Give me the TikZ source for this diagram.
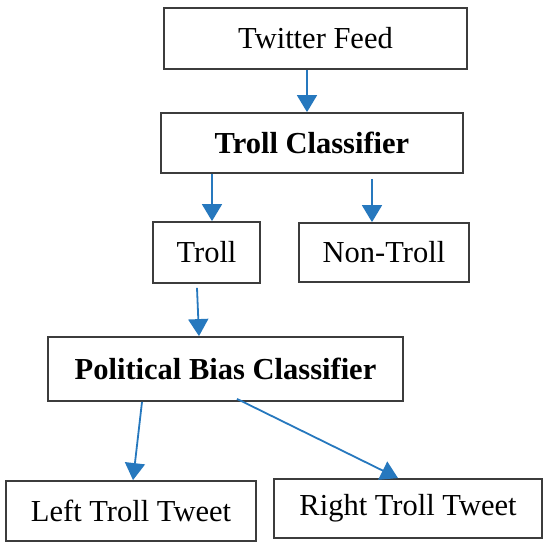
\documentclass[tikz,border=0pt]{standalone}
\usepackage{fontspec}
\setmainfont{Liberation Serif}
\usetikzlibrary{arrows.meta}
\definecolor{arrblue}{RGB}{38,120,190}
\definecolor{boxline}{RGB}{60,60,60}
\tikzset{
  box/.style={draw=boxline, line width=1.8pt, fill=white, inner sep=0pt, font=\fontsize{30.5}{34}\selectfont},
  arr/.style={draw=arrblue, line width=1.8pt, -{Triangle[width=20pt,length=17pt]}}
}
\begin{document}
\begin{tikzpicture}[x=1pt,y=-1pt]
\useasboundingbox[fill=white] (0,0) rectangle (549,550);
\node[box, minimum width=303pt, minimum height=61pt] (tf) at (315.5,38.5) {Twitter Feed};
\node[box, minimum width=302pt, minimum height=60pt] (tc) at (312,143) {\bfseries Troll Classifier};
\node[box, minimum width=107pt, minimum height=61pt] (troll) at (206.5,252.5) {Troll};
\node[box, minimum width=170pt, minimum height=59pt] (nontroll) at (384,252.5) {Non-Troll};
\node[box, minimum width=355pt, minimum height=64pt] (pbc) at (225.5,369) {\bfseries Political Bias Classifier};
\node[box, minimum width=250pt, minimum height=60pt] (left) at (131,511) {Left Troll Tweet};
\node[box, minimum width=268pt, minimum height=59pt] (right) at (408,508.5) {Right Troll Tweet};
\draw[arr] ([xshift=-8.5pt]tf.south) -- ([xshift=-5pt]tc.north);
\draw[arr] ([xshift=-100pt]tc.south) -- ([xshift=5.5pt]troll.north);
\draw[arr] ([xshift=60pt,yshift=-5pt]tc.south) -- ([xshift=-12pt]nontroll.north);
\draw[arr] ([xshift=-9.5pt,yshift=-4pt]troll.south) -- ([xshift=-26.5pt]pbc.north);
\draw[arr] ([xshift=-83.5pt]pbc.south) -- ([xshift=2pt]left.north);
\draw[arr] ([xshift=11.5pt,yshift=3pt]pbc.south) -- ([xshift=-10pt]right.north);
\end{tikzpicture}
\end{document}
